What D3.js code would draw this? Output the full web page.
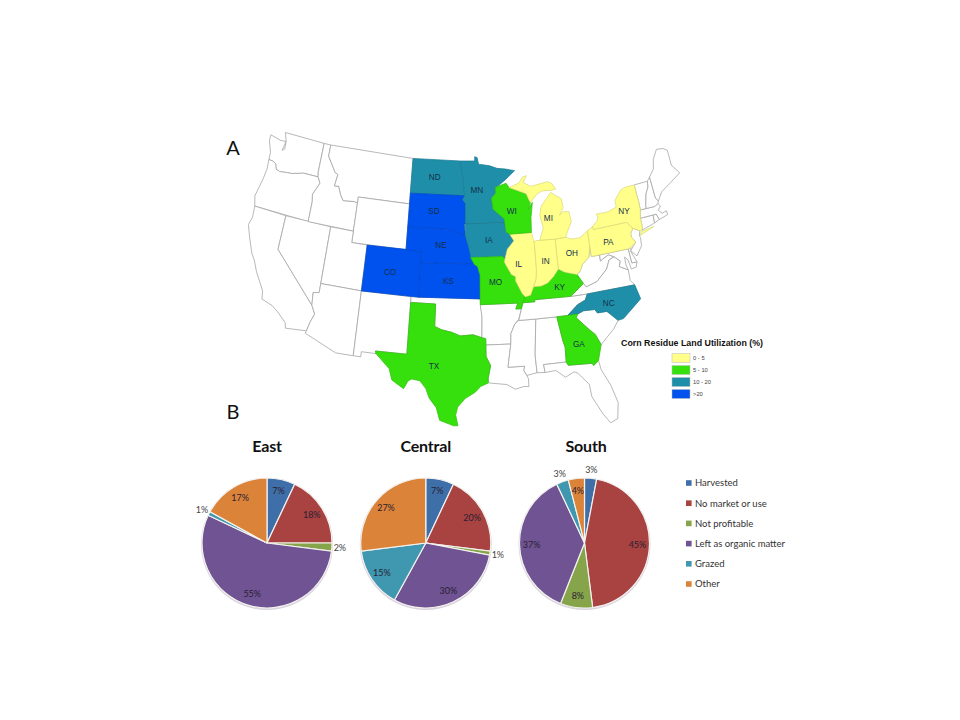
<!DOCTYPE html>
<html><head><meta charset="utf-8">
<script src="https://cdn.jsdelivr.net/npm/d3@7/dist/d3.min.js"></script>
<style>html,body{margin:0;background:#fff}svg{display:block}</style></head>
<body><svg id="c" width="960" height="720"></svg>
<script>
const stateShapes = {
WA:[[[-124.7,48.4],[-123.2,48.2],[-122.4,48.25],[-122.6,47.4],[-122.3,47.6],[-122.4,48.3],[-122.8,49],[-117.03,49],[-117.04,46.4],[-116.92,46],[-118.98,46],[-119.3,45.93],[-120.5,45.7],[-121.2,45.65],[-122.2,45.55],[-122.75,45.65],[-123,46.1],[-123.5,46.25],[-124.05,46.27],[-124.1,46.9],[-124.7,47.9]]],
OR:[[[-124.05,46.27],[-123.5,46.25],[-123,46.1],[-122.75,45.65],[-122.2,45.55],[-121.2,45.65],[-120.5,45.7],[-119.3,45.93],[-118.98,46],[-116.92,46],[-116.5,45.5],[-116.85,44.95],[-117.2,44.4],[-117.03,43.8],[-117.03,42],[-124.2,42],[-124.55,42.85],[-124.1,44.5],[-123.95,45.5]]],
CA:[[[-124.2,42],[-120,42],[-120,39],[-114.63,35],[-114.13,34.3],[-114.5,33.5],[-114.72,32.72],[-117.12,32.53],[-117.3,33],[-118.4,33.75],[-119.2,34.15],[-120.5,34.45],[-120.65,35.15],[-121.9,36.6],[-122.5,37.5],[-123,38],[-123.8,39.3],[-124.35,40.3],[-124.1,41]]],
NV:[[[-120,42],[-114.04,42],[-114.04,36.2],[-114.75,36.1],[-114.63,35],[-120,39]]],
ID:[[[-117.03,49],[-116.05,49],[-116.05,48],[-114.7,46.7],[-114.3,46.6],[-114.5,45.55],[-113.9,45.6],[-113.45,44.9],[-113,44.45],[-111.5,44.55],[-111.05,44.48],[-111.05,42],[-117.03,42],[-117.03,43.8],[-117.2,44.4],[-116.85,44.95],[-116.5,45.5],[-116.92,46],[-117.04,46.4]]],
MT:[[[-116.05,49],[-104.05,49],[-104.05,45],[-111.05,45],[-111.05,44.48],[-111.5,44.55],[-113,44.45],[-113.45,44.9],[-113.9,45.6],[-114.5,45.55],[-114.3,46.6],[-114.7,46.7],[-116.05,48]]],
WY:[[[-111.05,45],[-104.05,45],[-104.05,41],[-111.05,41]]],
UT:[[[-114.04,42],[-111.05,42],[-111.05,41],[-109.05,41],[-109.05,37],[-114.04,37]]],
CO:[[[-109.05,41],[-102.05,41],[-102.05,37],[-109.05,37]]],
AZ:[[[-114.75,36.1],[-114.04,36.2],[-114.04,37],[-109.05,37],[-109.05,31.33],[-111.07,31.33],[-114.81,32.5],[-114.72,32.72],[-114.5,33.5],[-114.13,34.3],[-114.63,35]]],
NM:[[[-109.05,37],[-103,37],[-103.04,32],[-106.62,32],[-106.53,31.78],[-108.2,31.78],[-108.2,31.33],[-109.05,31.33]]],
ND:[[[-104.05,49],[-97.23,49],[-96.85,47.6],[-96.56,45.94],[-104.05,45.94]]],
SD:[[[-104.05,45.94],[-96.56,45.94],[-96.85,45.6],[-96.45,45.3],[-96.45,43.5],[-96.6,43.5],[-96.45,42.5],[-97.9,42.8],[-98.5,43],[-104.05,43]]],
NE:[[[-104.05,43],[-98.5,43],[-97.9,42.8],[-96.45,42.5],[-96.1,41.7],[-95.85,41],[-95.31,40],[-102.05,40],[-102.05,41],[-104.05,41]]],
KS:[[[-102.05,40],[-95.31,40],[-94.9,39.8],[-94.61,39.1],[-94.62,37],[-102.05,37]]],
OK:[[[-103,37],[-94.62,37],[-94.43,35.4],[-94.48,33.64],[-95.5,33.9],[-97,33.8],[-98,34.1],[-99.2,34.3],[-100,34.56],[-100,36.5],[-103,36.5]]],
TX:[[[-106.62,32],[-103.04,32],[-103,36.5],[-100,36.5],[-100,34.56],[-99.2,34.3],[-98,34.1],[-97,33.8],[-95.5,33.9],[-94.48,33.64],[-94.04,33.55],[-94.04,33],[-94.04,32],[-93.55,31.2],[-93.85,30.1],[-93.85,29.7],[-94.7,29.4],[-95.3,28.9],[-96.4,28.35],[-97.2,27.6],[-97.4,26.9],[-97.15,25.96],[-97.6,25.95],[-99.1,26.4],[-99.5,27.5],[-100.3,28.3],[-100.7,29.1],[-101.4,29.77],[-102.3,29.88],[-102.7,29.7],[-103.15,28.98],[-104.5,29.65],[-104.9,30.6],[-106.53,31.78]]],
MN:[[[-97.23,49],[-95.15,49],[-95.15,49.38],[-94.8,49.3],[-94.6,48.72],[-93,48.55],[-92,48.3],[-90.8,48.2],[-89.5,48],[-90.8,47.3],[-92,46.7],[-92.3,46.65],[-92.3,46.1],[-92.9,45.7],[-92.75,45],[-92.75,44.75],[-91.25,43.85],[-91.22,43.5],[-96.45,43.5],[-96.45,45.3],[-96.85,45.6],[-96.56,45.94],[-96.85,47.6]]],
IA:[[[-96.45,43.5],[-91.22,43.5],[-91.1,42.7],[-90.65,42.5],[-90.15,41.9],[-91.05,41.2],[-91.4,40.4],[-91.73,40.6],[-95.77,40.58],[-95.85,41],[-96.1,41.7],[-96.45,42.5]]],
MO:[[[-95.77,40.58],[-91.73,40.6],[-91.4,40.4],[-91.5,40.1],[-90.7,39],[-90.2,38.8],[-90.2,38.4],[-89.5,37.3],[-89.15,37],[-89.5,36.5],[-89.7,36],[-90.37,36],[-90.1,36.5],[-94.62,36.5],[-94.62,37],[-94.61,39.1],[-94.9,39.8],[-95.31,40]]],
AR:[[[-94.62,36.5],[-90.1,36.5],[-90.37,36],[-89.7,36],[-90.1,35.1],[-90.6,34.7],[-91.1,33.9],[-91.17,33],[-94.04,33],[-94.04,33.55],[-94.48,33.64],[-94.43,35.4]]],
LA:[[[-94.04,33],[-91.17,33],[-91.6,31],[-89.73,31],[-89.85,30.65],[-89.55,30.18],[-89.4,29.9],[-89.4,29.2],[-89.9,29.25],[-90.9,29.05],[-91.8,29.5],[-93.85,29.7],[-93.85,30.1],[-93.55,31.2],[-94.04,32]]],
MS:[[[-90.1,35],[-88.2,35],[-88.1,34.9],[-88.47,31.9],[-88.4,30.35],[-89.55,30.18],[-89.85,30.65],[-89.73,31],[-91.6,31],[-91.17,33],[-91.1,33.9],[-90.6,34.7]]],
AL:[[[-88.2,35],[-85.6,35],[-85.18,32.87],[-85,32.3],[-85.05,31],[-87.6,31],[-87.5,30.3],[-88.4,30.35],[-88.47,31.9],[-88.1,34.9]]],
TN:[[[-89.7,36],[-89.5,36.5],[-88.05,36.5],[-88.05,36.68],[-83.68,36.6],[-81.68,36.59],[-82,36.1],[-83,35.8],[-84.3,35],[-85.6,35],[-88.2,35],[-90.1,35]]],
KY:[[[-89.5,36.5],[-89.15,37],[-88.5,37.1],[-88.05,37.8],[-87.1,37.8],[-86.3,38],[-85.5,38.5],[-84.8,39.1],[-84.2,38.8],[-83.7,38.65],[-82.6,38.4],[-81.97,37.54],[-83.68,36.6],[-88.05,36.68],[-88.05,36.5]]],
IL:[[[-90.65,42.5],[-87.8,42.5],[-87.6,41.8],[-87.53,41.7],[-87.53,39.35],[-87.65,38.5],[-88.05,37.8],[-88.5,37.1],[-89.15,37],[-89.5,37.3],[-90.2,38.4],[-90.2,38.8],[-90.7,39],[-91.5,40.1],[-91.4,40.4],[-91.05,41.2],[-90.15,41.9]]],
WI:[[[-92.3,46.65],[-92,46.7],[-90.8,46.95],[-90.4,46.55],[-88.1,45.9],[-87.8,45.35],[-87.6,45.1],[-88,44.55],[-87.35,45.1],[-87.7,43.8],[-87.8,42.5],[-90.65,42.5],[-91.1,42.7],[-91.22,43.5],[-91.25,43.85],[-92.75,44.75],[-92.75,45],[-92.9,45.7],[-92.3,46.1]]],
IN:[[[-87.53,41.7],[-87.2,41.75],[-84.8,41.7],[-84.8,39.1],[-85.5,38.5],[-86.3,38],[-87.1,37.8],[-88.05,37.8],[-87.65,38.5],[-87.53,39.35]]],
OH:[[[-84.8,41.7],[-83.45,41.73],[-82.7,41.5],[-81.6,41.5],[-80.52,41.98],[-80.52,40.64],[-80.85,39.7],[-81.75,39.2],[-82.2,38.6],[-82.6,38.4],[-83.7,38.65],[-84.2,38.8],[-84.8,39.1]]],
MI:[[[-86.8,41.76],[-84.8,41.7],[-83.45,41.73],[-83.1,42.2],[-82.45,43],[-82.6,43.9],[-83.4,43.95],[-83.9,43.7],[-83.3,44.3],[-83.4,45.1],[-84.75,45.78],[-85.5,45.2],[-86.2,44.7],[-86.5,43.9],[-86.2,42.8]],[[-90.4,46.55],[-89,46.9],[-88.4,47.4],[-87.9,47.47],[-88.4,46.9],[-87.4,46.5],[-86,46.65],[-85,46.75],[-84.4,46.5],[-84,46],[-84.75,45.95],[-85.8,46],[-86.6,45.8],[-87.6,45.1],[-87.8,45.35],[-88.1,45.9]]],
WV:[[[-80.52,40.64],[-80.52,39.72],[-79.48,39.72],[-79.48,39.2],[-78.4,39.6],[-77.72,39.32],[-78.4,39.15],[-78.9,38.4],[-80.3,37.5],[-81.68,37.2],[-81.97,37.54],[-82.6,38.4],[-82.2,38.6],[-81.75,39.2],[-80.85,39.7]]],
VA:[[[-83.68,36.6],[-81.97,37.54],[-81.68,37.2],[-80.3,37.5],[-78.9,38.4],[-78.4,39.15],[-77.72,39.32],[-77.05,38.85],[-77.3,38.4],[-76.3,37.95],[-76.3,37],[-75.87,36.55],[-81.68,36.59]]],
NC:[[[-84.3,35],[-83,35.8],[-82,36.1],[-81.68,36.59],[-75.87,36.55],[-75.5,35.25],[-76.5,34.7],[-77.9,33.9],[-78.55,33.85],[-79.67,34.8],[-80.8,34.82],[-81.05,35.15],[-82.4,35.2],[-83.1,35]]],
SC:[[[-83.1,35],[-82.4,35.2],[-81.05,35.15],[-80.8,34.82],[-79.67,34.8],[-78.55,33.85],[-79.2,33.2],[-80.9,32.05],[-81.4,33],[-82,33.5],[-83.35,34.7]]],
GA:[[[-85.6,35],[-84.3,35],[-83.1,35],[-83.35,34.7],[-82,33.5],[-81.4,33],[-80.9,32.05],[-81.45,30.72],[-82.05,30.36],[-82.2,30.57],[-84.86,30.7],[-85.05,31],[-85,32.3],[-85.18,32.87]]],
FL:[[[-87.6,31],[-85.05,31],[-84.86,30.7],[-82.2,30.57],[-82.05,30.36],[-81.45,30.72],[-81.3,29.9],[-80.5,28.4],[-80,26.8],[-80.3,25.4],[-81.1,25.15],[-81.8,26.1],[-82.7,27.7],[-82.8,28.8],[-83.9,29.9],[-84.3,30.07],[-85.3,29.7],[-86.3,30.38],[-87.5,30.3]]],
MD:[[[-79.48,39.72],[-75.79,39.72],[-75.7,38.46],[-75.05,38.45],[-75.25,38.03],[-75.9,37.95],[-76.1,38.8],[-76.45,39.1],[-76.45,38.4],[-76.3,37.95],[-77.3,38.4],[-77.05,38.85],[-77.72,39.32],[-78.4,39.6],[-79.48,39.2]]],
DE:[[[-75.79,39.72],[-75.45,39.8],[-75.55,39.45],[-75.05,38.45],[-75.7,38.46]]],
PA:[[[-80.52,41.98],[-79.76,42.27],[-79.76,42],[-75.35,42],[-74.7,41.36],[-75.13,40.97],[-75.1,40.6],[-74.72,40.15],[-75.45,39.8],[-75.79,39.72],[-80.52,39.72],[-80.52,40.64]]],
NY:[[[-79.76,42.27],[-79.05,42.7],[-78.9,43],[-79.05,43.27],[-77.5,43.25],[-76.3,43.5],[-76.3,44.1],[-75.3,44.85],[-74.7,45],[-73.35,45],[-73.3,44],[-73.25,43.6],[-73.27,42.75],[-73.5,42.05],[-73.5,41.3],[-73.65,41],[-73.9,41],[-74.7,41.36],[-75.35,42],[-79.76,42]],[[-74,40.6],[-72,41.05],[-73.7,40.9]]],
NJ:[[[-74.7,41.36],[-73.9,41],[-74.1,40.6],[-74,40.4],[-74.1,39.7],[-74.9,38.95],[-75.55,39.5],[-74.72,40.15],[-75.1,40.6],[-75.13,40.97]]],
CT:[[[-73.5,42.05],[-71.8,42.02],[-71.85,41.32],[-73.65,41],[-73.5,41.3]]],
RI:[[[-71.8,42.02],[-71.38,42.02],[-71.15,41.5],[-71.85,41.32]]],
MA:[[[-73.5,42.05],[-73.27,42.75],[-71.3,42.7],[-70.85,42.88],[-70.6,42.6],[-71,42.3],[-70.6,41.95],[-70,42.05],[-69.95,41.7],[-71.15,41.5],[-71.38,42.02]]],
VT:[[[-73.35,45],[-71.5,45],[-71.6,44.5],[-72.05,44],[-72.45,43],[-72.46,42.73],[-73.27,42.75],[-73.25,43.6],[-73.3,44]]],
NH:[[[-71.5,45],[-71.08,45.3],[-70.98,43.4],[-70.7,43.07],[-70.85,42.88],[-71.3,42.7],[-72.46,42.73],[-72.45,43],[-72.05,44],[-71.6,44.5]]],
ME:[[[-71.08,45.3],[-70.3,45.9],[-70,46.7],[-69.23,47.46],[-68.3,47.35],[-67.8,47.07],[-67.8,45.7],[-67,44.85],[-68.5,44.3],[-70,43.75],[-70.7,43.07],[-70.98,43.4]]]
};
const classNames = ["0 - 5","5 - 10","10 - 20",">20"];
const classColors = ["#ffff8a","#36e00c","#1f8fa9","#0052ee"];
const stateClass = {NY:0,PA:0,OH:0,IN:0,IL:0,MI:0,WI:1,MO:1,KY:1,GA:1,TX:1,ND:2,MN:2,IA:2,NC:2,SD:3,NE:3,KS:3,CO:3};
const stateLabelAt = {ND:[-100.8,47.5],SD:[-100.7,44.5],NE:[-99.6,41.6],KS:[-98.5,38.5],CO:[-105.8,38.9],MN:[-94.9,46.4],IA:[-93.4,42.1],WI:[-90.2,44.5],MO:[-92.7,38.4],IL:[-89.7,39.9],IN:[-86.3,39.9],OH:[-82.9,40.3],MI:[-85.4,43.6],KY:[-84.9,37.5],NC:[-79.3,35.5],GA:[-83.4,32.4],TX:[-99.9,31.1],NY:[-75.4,43],PA:[-78.1,40.7]};

const regions = ["East","Central","South"];
const categories = ["Harvested","No market or use","Not profitable","Left as organic matter","Grazed","Other"];
const catColors = ["#3f6fa8","#a84342","#86a44a","#6f5393","#3f97b0","#dc833a"];
const eastValues = [7,18,2,55,1,17];
const centralValues = [7,20,1,30,15,27];
const southValues = [3,45,8,37,3,4];
const regionValues = [eastValues,centralValues,southValues];

const svg = d3.select("#c");
svg.append("rect").attr("width",960).attr("height",720).attr("fill","#fff");

const conic = d3.geoConicEqualArea().parallels([29.5,45.5]).rotate([96,0]).center([0,37]).scale(650).translate([468,299]);
const squeezeX = d3.scaleLinear().domain([478,578]).range([478,570]);
const squeezeY = d3.scaleLinear().domain([299,399]).range([299,400]);
const squeeze = d3.geoTransform({point(x,y){this.stream.point(squeezeX(x),squeezeY(y));}});
const projection = {stream:s=>conic.stream(squeeze.stream(s))};
const place = p => {const q=conic(p);return [squeezeX(q[0]),squeezeY(q[1])];};
const path = d3.geoPath(projection);
const map = svg.append("g");
const names = Object.keys(stateShapes);
const closeRing = r => {
  const c = r.concat([r[0]]);
  return d3.geoArea({type:"Polygon",coordinates:[c]}) > 2*Math.PI ? c.slice().reverse() : c;
};
const feature = n => ({type:"Feature",geometry:{type:"MultiPolygon",coordinates:stateShapes[n].map(r=>[closeRing(r)])}});
map.selectAll("path.w").data(names.filter(n=>!(n in stateClass))).join("path").attr("class","w")
  .attr("d",n=>path(feature(n))).attr("fill","#fff").attr("stroke","#a6a6a6").attr("stroke-width",.8).attr("stroke-linejoin","round");
map.selectAll("path.c").data(names.filter(n=>n in stateClass)).join("path").attr("class","c")
  .attr("d",n=>path(feature(n))).attr("fill",n=>classColors[stateClass[n]])
  .attr("stroke",n=>d3.color(classColors[stateClass[n]]).darker(.45)).attr("stroke-width",.7).attr("stroke-linejoin","round");
map.selectAll("text").data(Object.keys(stateLabelAt)).join("text")
  .attr("transform",n=>`translate(${place(stateLabelAt[n])})`).attr("text-anchor","middle").attr("dy","0.35em")
  .attr("font-family","Liberation Sans").attr("font-size",8.2).attr("fill","#13304a").text(n=>n);

svg.selectAll("text.pl").data([["A",233,148],["B",233,412]]).join("text").attr("class","pl")
  .attr("x",d=>d[1]).attr("y",d=>d[2]+7).attr("text-anchor","middle")
  .attr("font-family","Lato").attr("font-size",20).attr("fill","#111").text(d=>d[0]);

const lg = svg.append("g");
lg.append("text").attr("x",621).attr("y",346).attr("font-family","Liberation Sans").attr("font-weight","bold").attr("font-size",8.85).attr("fill","#111").text("Corn Residue Land Utilization (%)");
const ly = d3.scalePoint().domain(classNames).range([358,394]);
lg.selectAll("rect").data(classNames).join("rect").attr("x",672).attr("y",d=>ly(d)-4.5).attr("width",18).attr("height",9)
  .attr("fill",(d,i)=>classColors[i]).attr("stroke","#bdbdbd").attr("stroke-width",.5);
lg.selectAll("text.k").data(classNames).join("text").attr("class","k").attr("x",693).attr("y",d=>ly(d)).attr("dy","0.35em")
  .attr("font-family","Liberation Sans").attr("font-size",5.8).attr("fill","#444").text(d=>d);

const cx = d3.scalePoint().domain(regions).range([267,584.5]);
const pieGen = d3.pie().sort(null).value(d=>d);
const R = 65;
const arc = d3.arc().innerRadius(0).outerRadius(R);
const labIn = d3.arc().innerRadius(53).outerRadius(53);
const labOut = d3.arc().innerRadius(73).outerRadius(73);
regions.forEach((r,i)=>{
  const g = svg.append("g").attr("transform",`translate(${cx(r)},543)`);
  g.append("circle").attr("r",R+1).attr("cy",1).attr("fill","#d9d4de");
  const arcs = pieGen(regionValues[i]);
  g.selectAll("path").data(arcs).join("path").attr("d",arc).attr("fill",(d,j)=>catColors[j]).attr("stroke","#f4f2ef").attr("stroke-width",1.2);
  g.selectAll("text").data(arcs).join("text")
    .attr("transform",d=>`translate(${(d.value<=3?labOut:labIn).centroid(d)})`).attr("text-anchor","middle").attr("dy","0.35em")
    .attr("font-family","Lato").attr("font-size",9).attr("fill",d=>d.value<=3?"#444":"#2a2030").text(d=>d.value+"%");
  svg.append("text").attr("x",cx(r)+(i==2?1.5:0)).attr("y",452).attr("text-anchor","middle").attr("font-family","Lato").attr("font-weight","bold").attr("font-size",16).attr("letter-spacing",-.2).attr("fill","#111").text(r);
});

const legY = d3.scalePoint().domain(categories).range([483,584]);
const leg = svg.append("g");
leg.selectAll("rect").data(categories).join("rect").attr("x",686).attr("y",d=>legY(d)-2.8).attr("width",5.6).attr("height",5.6).attr("fill",(d,i)=>catColors[i]);
leg.selectAll("text").data(categories).join("text").attr("x",695).attr("y",d=>legY(d)).attr("dy","0.35em")
  .attr("font-family","Lato").attr("font-size",9.5).attr("fill","#333").text(d=>d);
</script></body></html>
